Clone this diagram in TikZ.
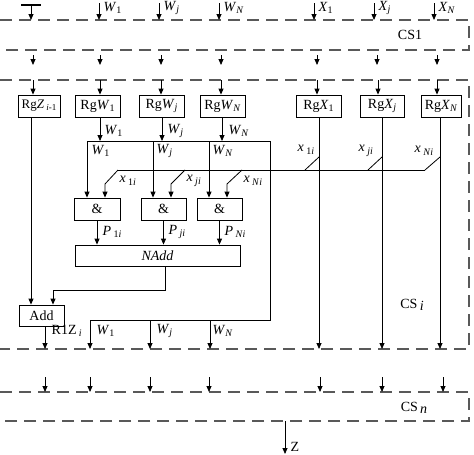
\documentclass[tikz,border=0pt]{standalone}
\usepackage{fontspec}
\setmainfont{Liberation Serif}
\usetikzlibrary{arrows.meta}
\newcommand{\sbs}[1]{\raisebox{-2.5pt}{\fontsize{10}{12}\selectfont #1}}
\newcommand{\Wl}[1]{\textit{W}\sbs{#1}}
\newcommand{\Xl}[1]{\textit{X}\sbs{#1}}
\newcommand{\xl}[1]{\textit{x}\,\sbs{#1}}
\newcommand{\Pl}[1]{\textit{P}\,\sbs{#1}}
\newcommand{\ii}{\textit{i}}
\newcommand{\jj}{\textit{j}}
\newcommand{\NN}{\textit{N}}
\begin{document}
\begin{tikzpicture}[x=1pt,y=-1pt,
  every node/.style={font=\fontsize{14}{16}\selectfont},
  box/.style={draw, line width=0.8pt, minimum height=22pt, inner sep=1pt},
  ln/.style={line width=0.8pt},
  arr/.style={ln,-{Triangle[length=6pt,width=5pt]}},
  dsh/.style={draw=black!65, line width=1.3pt, dash pattern=on 12pt off 7pt},
  lab/.style={inner sep=0.5pt, anchor=west}]
\useasboundingbox (0,0) rectangle (474,455);

% dashed frames
\draw[dsh] (0,20) -- (469,20) -- (469,50) -- (0,50);
\draw[dsh] (0,80) -- (469,80) -- (469,349) -- (0,349);
\draw[dsh] (0,392) -- (469,392) -- (469,421) -- (0,421);
\node (cs1) at (410,35) {CS1};
\node (csi) at (412,305) {CS\,\raisebox{-1.5pt}{\textit{i}}};
\node (csn) at (414,408) {CS\,\raisebox{-1.5pt}{\textit{n}}};

% top inputs
\draw[line width=1.8pt] (21,5) -- (41,5);
\coordinate (t0) at (31,5);
\draw[arr] (t0) -- (31,20);
\foreach \x/\n/\t in {99/tw1/\Wl{1},159/twj/\Wl{\jj},219/twn/\Wl{\NN},314/tx1/\Xl{1},374/txj/\Xl{\jj},434/txn/\Xl{\NN}}{
  \coordinate (\n) at (\x,3);
  \draw[arr] (\n) -- (\x,20);
  \node[lab] (\n l) at (\x+4,8) {\t};
}
% second row arrows
\foreach \x in {33,100,161,221,317,377,437}{
  \coordinate (r2\x) at (\x,55);
  \draw[arr] (r2\x) -- (\x,65);
}

% registers
\node[box, minimum width=42pt, font=\fontsize{13}{15}\selectfont] (RgZ) at (39,106) {Rg\textit{Z}\,\raisebox{-2pt}{\fontsize{9}{11}\selectfont\textit{i}-1}};
\node[box, minimum width=45pt] (RgW1) at (97.5,106) {Rg\Wl{1}};
\node[box, minimum width=45pt] (RgWj) at (161.5,106) {Rg\Wl{\jj}};
\node[box, minimum width=45pt] (RgWN) at (222.5,106) {Rg\Wl{\NN}};
\node[box, minimum width=45pt] (RgX1) at (318.5,106) {Rg\Xl{1}};
\node[box, minimum width=44pt] (RgXj) at (382,106) {Rg\Xl{\jj}};
\node[box, minimum width=40pt] (RgXN) at (441,106) {Rg\Xl{\NN}};

\foreach \x/\b in {33/RgZ,100/RgW1,161/RgWj,221/RgWN,317/RgX1,378/RgXj,437/RgXN}{
  \coordinate (r3\x) at (\x,80);
  \draw[arr] (r3\x) -- (r3\x |- \b.north);
}

% AND gates, adders
\node[box, minimum width=46pt] (and1) at (97,209) {\&};
\node[box, minimum width=45pt] (and2) at (163.5,209) {\&};
\node[box, minimum width=45pt] (and3) at (219.5,209) {\&};
\node[box, minimum width=165pt, minimum height=21pt] (nadd) at (157.5,255.5) {\textit{NAdd}};
\node[box, minimum width=45pt, minimum height=21pt] (add) at (41.5,315.5) {Add};

% W bus
\coordinate (busL) at (87,141);
\coordinate (busR) at (270,141);
\coordinate (busBR) at (270,320);
\coordinate (busBL) at (90,320);
\draw[ln] (busL) -- (busR) -- (busBR) -- (busBL);
\foreach \x/\b in {100/RgW1,162/RgWj,222/RgWN}{
  \coordinate (w\x) at (\x,141);
  \draw[arr] (w\x |- \b.south) -- (w\x);
}
\node[lab] (lw1a) at (104,131) {\Wl{1}};
\node[lab] (lwja) at (167,131) {\Wl{\jj}};
\node[lab] (lwna) at (228,131) {\Wl{\NN}};

\foreach \x/\b in {87/and1,153/and2,209/and3}{
  \coordinate (b\x) at (\x,141);
  \draw[arr] (b\x) -- (b\x |- \b.north);
}
\node[lab] (lw1b) at (91,151) {\Wl{1}};
\node[lab] (lwjb) at (156,151) {\Wl{\jj}};
\node[lab] (lwnb) at (212,151) {\Wl{\NN}};

% x line
\coordinate (xs) at (118,170);
\coordinate (xe) at (425,170);
\draw[ln] (xs) -- (xe);
\coordinate (i1) at (105,184);
\coordinate (i2) at (171,184);
\coordinate (i3) at (227,184);
\coordinate (xj) at (185,170);
\coordinate (xn) at (242,170);
\draw[arr] (xs) -- (i1) -- (i1 |- and1.north);
\draw[arr] (xj) -- (i2) -- (i2 |- and2.north);
\draw[arr] (xn) -- (i3) -- (i3 |- and3.north);
\node[lab] (lx1a) at (119,181) {\xl{1\ii}};
\node[lab] (lxja) at (186,181) {\xl{\jj\ii}};
\node[lab] (lxna) at (243,181) {\xl{\NN\ii}};

% X verticals and taps
\coordinate (cx1) at (319,0);
\coordinate (cxj) at (382,0);
\coordinate (cxn) at (440,0);
\draw[arr] (cx1 |- RgX1.south) -- (319,349);
\draw[arr] (cxj |- RgXj.south) -- (382,349);
\draw[arr] (cxn |- RgXN.south) -- (440,349);
\draw[ln] (305,170) -- (319,157);
\draw[ln] (368,170) -- (382,157);
\draw[ln] (xe) -- (440,157);
\node[lab] (lx1b) at (297,150) {\xl{1\ii}};
\node[lab] (lxjb) at (358,151) {\xl{\jj\ii}};
\node[lab] (lxnb) at (414,151) {\xl{\NN\ii}};

% P outputs
\draw[arr] (and1.south) -- (and1.south |- nadd.north);
\draw[arr] (and2.south) -- (and2.south |- nadd.north);
\draw[arr] (and3.south) -- (and3.south |- nadd.north);
\node[lab] (lp1) at (102,232) {\Pl{1\ii}};
\node[lab] (lpj) at (168,232) {\Pl{\jj\ii}};
\node[lab] (lpn) at (224,232) {\Pl{\NN\ii}};

% adders
\coordinate (na) at (165,0);
\coordinate (k1) at (165,290);
\coordinate (k2) at (53,290);
\draw[arr] (na |- nadd.south) -- (k1) -- (k2) -- (k2 |- add.north);
\coordinate (cz) at (31,0);
\draw[arr] (cz |- RgZ.south) -- (cz |- add.north);
\coordinate (ca) at (45,0);
\draw[arr] (ca |- add.south) -- (45,349);
\node[lab] (lr) at (51,331) {R1Z\,\sbs{\textit{i}}};

% bottom W drops
\foreach \x in {90,150,210}{
  \coordinate (d\x) at (\x,320);
  \draw[arr] (d\x) -- (\x,349);
}
\node[lab] (lw1c) at (96,331) {\Wl{1}};
\node[lab] (lwjc) at (156,331) {\Wl{\jj}};
\node[lab] (lwnc) at (212,331) {\Wl{\NN}};

% row between CSi and CSn
\foreach \x in {45,90,150,209,320,382,443}{
  \coordinate (r5\x) at (\x,377);
  \draw[arr] (r5\x) -- (\x,392);
}

% output
\coordinate (zo) at (285,421);
\coordinate (ze) at (285,454);
\draw[arr] (zo) -- (ze);
\node[lab] (lz) at (290,447) {Z};
\end{tikzpicture}
\end{document}
